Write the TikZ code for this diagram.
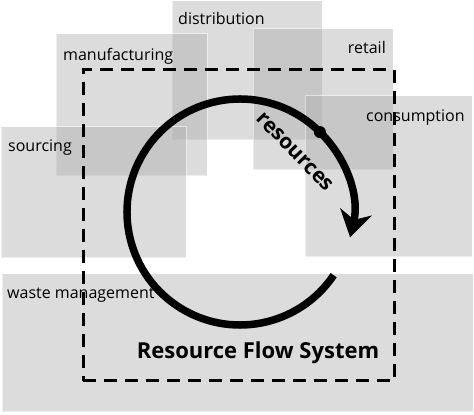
\documentclass[tikz,border=0pt]{standalone}
\usepackage{fontspec}
\setmainfont{Open Sans}
\usepackage{tikz}
\usetikzlibrary{positioning}
\usetikzlibrary{calc}
\usetikzlibrary{arrows.meta}
\tikzset{
stage/.style={
  rectangle,
  inner sep=0pt,
  draw=white,
  draw opacity=0.5,
  line width=1pt,
  fill=black!32,
  fill opacity=0.43
  },
lbl/.style={
  inner sep=0pt,
  anchor=base west,
  font=\fontsize{16}{19}\selectfont
  }
}

\begin{document}
\begin{tikzpicture}[x=1pt,y=1pt]
        \useasboundingbox (0,0) rectangle (474,415);
        % the stages
        \node[stage,minimum width=150,minimum height=139] at (247,344.5) (distr) {};
        \node[stage,minimum width=151,minimum height=142] at (131.5,310) (manuf) {};
        \node[stage,minimum width=140,minimum height=141] at (323,315.5) (retail) {};
        \node[stage,minimum width=167,minimum height=161] at (388.5,238.5) (consum) {};
        \node[stage,minimum width=185,minimum height=131] at (93.5,222.5) (source) {};
        \node[stage,minimum width=471,minimum height=138] at (237.5,72) (waste) {};
        % their labels
        \node[lbl] at (178,390) (ldistr) {distribution};
        \node[lbl] at (63,354) (lmanuf) {manufacturing};
        \node[lbl,anchor=base east] at (386,361) (lretail) {retail};
        \node[lbl] at (366,293) (lconsum) {consumption};
        \node[lbl] at (8,263) (lsource) {sourcing};
        \node[lbl] at (7,116) (lwaste) {waste management};
        % the system
        \node[draw=black,line width=3pt,dash pattern=on 13pt off 8pt,
              minimum width=311,minimum height=311,inner sep=0pt] at (238.5,189.5) (sys) {};
        \node[inner sep=0pt,anchor=base,font=\fontsize{22}{26}\selectfont\bfseries] at (258,56) (lsys) {Resource Flow System};
        \coordinate (hub) at (240,203);
        \draw[line width=7.5pt,-{Stealth[length=26pt,width=32pt,inset=8pt]}]
          ($(hub)+(-34:113)$) arc[start angle=-34,end angle=-373,radius=113];
        \node[circle,fill=black,inner sep=0pt,minimum size=12pt] at ($(hub)+(45:113)$) (dot) {};
        \node[inner sep=0pt,rotate=-46,font=\fontsize{21}{25}\selectfont\bfseries] at (295,263) (lres) {resources};
    \end{tikzpicture}
\end{document}
